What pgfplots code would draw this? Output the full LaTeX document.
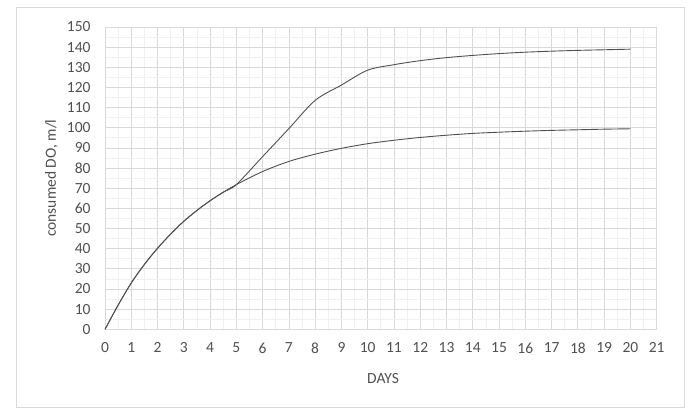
\documentclass[border=0pt]{standalone}
\usepackage{fontspec}
\setmainfont{Carlito}
\usepackage{pgfplots}
\pgfplotsset{compat=1.18}
\definecolor{majgrid}{HTML}{D9D9D9}
\definecolor{mingrid}{HTML}{F0F0F0}
\definecolor{txtgray}{HTML}{505050}
\definecolor{curve}{HTML}{505050}
\definecolor{frame}{HTML}{D9D9D9}
\begin{document}
\begin{tikzpicture}
\begin{axis}[
    at={(0pt,0pt)}, anchor=south west,
    scale only axis,
    width=551.7pt, height=302.3pt,
    xmin=0, xmax=21, ymin=0, ymax=150,
    xtick distance=1, ytick distance=10,
    minor x tick num=1, minor y tick num=1,
    grid=both,
    major grid style={draw=majgrid, line width=0.8pt},
    minor grid style={draw=mingrid, line width=0.8pt},
    axis line style={draw=majgrid, line width=0.8pt},
    major tick length=0pt, minor tick length=0pt,
    tick label style={font=\fontsize{15.5}{18}\selectfont, text=txtgray},
    /pgf/number format/assume math mode=true,
    xticklabel style={yshift=-10pt},
    yticklabel style={xshift=-11pt},
    label style={font=\fontsize{15.5}{18}\selectfont, text=txtgray},
    xlabel={DAYS},
    ylabel={consumed DO, m/l},
    xlabel style={at={(axis description cs:0.504,-0.162)}, anchor=center},
    ylabel style={at={(axis description cs:-0.097,0.5)}, anchor=center, rotate=0},
    clip=false,
]
% lower curve
\addplot[curve, line width=0.9pt, smooth, tension=0.5] coordinates {
 (0,0) (0.5,12) (1,23) (1.5,32.2) (2,40.2) (2.5,47.3) (3,53.6) (3.5,59)
 (4,63.8) (4.5,68) (5,71.8) (6,78.3) (7,83.3) (8,86.9)
 (9,89.8) (10,92.1) (11,93.8) (12,95.2) (13,96.3) (14,97.2) (15,97.8)
 (16,98.3) (17,98.7) (18,99.0) (19,99.3) (20,99.5)
};
% upper curve
\addplot[curve, line width=0.9pt, smooth, tension=0.5] coordinates {
 (0,0) (0.5,12) (1,23) (1.5,32.2) (2,40.2) (2.5,47.3) (3,53.6) (3.5,59)
 (4,63.8) (4.5,68) (5,71.8) (6,85.7) (7,99.6) (8,113.6)
 (9,121.2) (10,128.6) (11,131.3) (12,133.3) (13,134.8) (14,135.9) (15,136.8)
 (16,137.5) (17,138.0) (18,138.4) (19,138.7) (20,139.0)
};
\end{axis}
\draw[frame, line width=0.8pt] (-89pt,-78.4pt) rectangle (579.3pt,322.3pt);
\path (-105pt,-79.7pt) rectangle (585pt,329.3pt);
\end{tikzpicture}
\end{document}
